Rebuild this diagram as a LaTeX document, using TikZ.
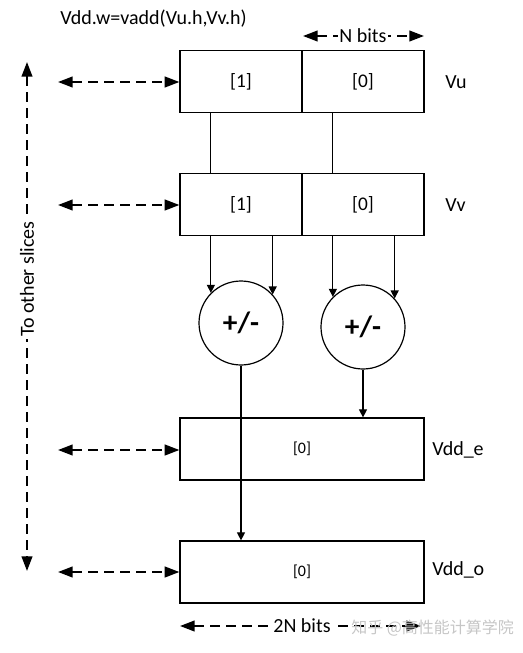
\documentclass[tikz,border=0pt]{standalone}
\usepackage{fontspec}
\setmainfont{Carlito}
\newfontfamily\cjkwm{Noto Sans CJK SC}
\usetikzlibrary{arrows.meta,calc}
\begin{document}
\begin{tikzpicture}[x=0.75pt,y=-0.75pt,
  cell/.style={draw,line width=0.9pt,minimum width=91.5pt,minimum height=46.5pt,inner sep=0pt,font=\fontsize{14.5}{17}\selectfont},
  widecell/.style={draw,line width=0.9pt,minimum width=183pt,minimum height=46.5pt,inner sep=0pt,font=\fontsize{12}{14}\selectfont},
  adder/.style={draw,circle,line width=0.9pt,minimum size=63pt,inner sep=0pt,font=\bfseries\fontsize{22}{26}\selectfont},
  lbl/.style={anchor=west,inner sep=0pt,font=\fontsize{15}{18}\selectfont},
  dasharr/.style={line width=1.5pt,dash pattern=on 7.5pt off 4.5pt,{Triangle[length=11pt,width=8pt]}-{Triangle[length=11pt,width=8pt]}},
  solidarr/.style={line width=0.8pt,-{Triangle[length=6pt,width=6pt]}},
  wire/.style={line width=0.8pt}]
\useasboundingbox (0,0) rectangle (523,653);

% title
\node[lbl] (title) at (60,19) {Vdd.w=vadd(Vu.h,Vv.h)};

% N bits
\coordinate (nl) at (303,36);
\coordinate (nr) at (424,36);
\draw[dasharr] (nl) -- (nr);
\node[fill=white,inner sep=1pt,font=\fontsize{15}{18}\selectfont] (nbits) at (363,36) {N bits};

% Vu
\node[cell] (vu1) at (241,81.5) {[1]};
\node[cell] (vu0) at (363,81.5) {[0]};
\node[lbl] (vulbl) at (445,82) {Vu};

% Vv
\node[cell] (vv1) at (241,204.5) {[1]};
\node[cell] (vv0) at (363,204.5) {[0]};
\node[lbl] (vvlbl) at (445,205) {Vv};

% wires Vu -> Vv
\draw[wire] ($(vu1.south west)!0.25!(vu1.south east)$) -- ($(vv1.north west)!0.25!(vv1.north east)$);
\draw[wire] ($(vu0.south west)!0.25!(vu0.south east)$) -- ($(vv0.north west)!0.25!(vv0.north east)$);

% adders
\node[adder] (c1) at (241,323) {+/-};
\node[adder] (c2) at (363,327) {+/-};

\draw[solidarr] (c1.135.6 |- vv1.south) -- (c1.135.6);
\draw[solidarr] (c1.42.4 |- vv1.south) -- (c1.42.4);
\draw[solidarr] (c2.135.6 |- vv0.south) -- (c2.135.6);
\draw[solidarr] (c2.42.4 |- vv0.south) -- (c2.42.4);

% Vdd_e and Vdd_o
\node[widecell] (vdde) at (302,449) {[0]};
\node[lbl] (vddelbl) at (432,450) {Vdd\_e};
\node[widecell] (vddo) at (302,572) {[0]};
\node[lbl] (vddolbl) at (432,570) {Vdd\_o};

\draw[solidarr] (c2.south) -- (c2.south |- vdde.north);
\draw[solidarr] (c1.south) -- (c1.south |- vddo.north);

% left arrows
\coordinate (l1) at (58,82);
\coordinate (l2) at (58,205);
\coordinate (l3) at (58,450);
\coordinate (l4) at (58,572);
\draw[dasharr] (l1) -- (vu1.west |- l1);
\draw[dasharr] (l2) -- (vv1.west |- l2);
\draw[dasharr] (l3) -- (vdde.west |- l3);
\draw[dasharr] (l4) -- (vddo.west |- l4);

% vertical
\coordinate (vt) at (27,62);
\coordinate (vb) at (27,571);
\draw[dasharr] (vt) -- (vb);
\node[fill=white,rotate=90,inner sep=2pt,font=\fontsize{15}{18}\selectfont] (slices) at (27,279) {To other slices};

% 2N bits
\coordinate (bl) at (180,626);
\coordinate (br) at (421,626);
\draw[dasharr] (bl) -- (br);
\node[fill=white,inner sep=1pt,font=\fontsize{15}{18}\selectfont] (twonbits) at (302,626) {2N bits};

% watermark
\node[anchor=west,inner sep=0pt,text=gray!45,font=\cjkwm\fontsize{12}{14}\selectfont] (wm) at (351,628) {知乎 @高性能计算学院};
\end{tikzpicture}
\end{document}
